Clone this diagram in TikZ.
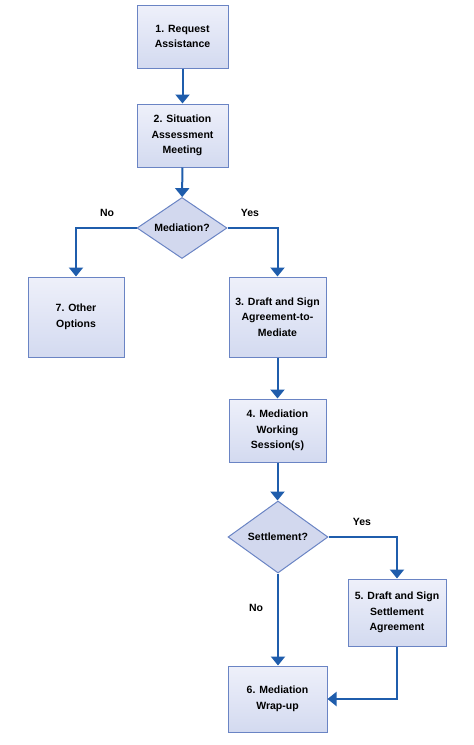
\documentclass[tikz,border=0pt]{standalone}
\usepackage{fontspec}
\setmainfont{Liberation Sans}
\usetikzlibrary{shapes.geometric,arrows.meta}
\definecolor{boxline}{HTML}{6A84C4}
\definecolor{boxtop}{HTML}{EEF0FA}
\definecolor{boxbot}{HTML}{D3DAF0}
\definecolor{dfill}{HTML}{D2D8EE}
\definecolor{arr}{HTML}{1F5DAC}
\tikzset{
  stepbox/.style={draw=boxline, line width=1pt, top color=boxtop, bottom color=boxbot,
    minimum width=91pt, minimum height=63pt, align=center, inner sep=2pt,
    font=\fontsize{10.5}{15.5}\selectfont\bfseries},
  decide/.style={diamond, draw=boxline, line width=1pt, fill=dfill, aspect=1.5,
    inner sep=0pt, font=\fontsize{10.5}{15.5}\selectfont\bfseries},
  flow/.style={draw=arr, line width=2pt, -{Triangle[length=9pt,width=14pt]}},
  lbl/.style={font=\fontsize{10.5}{15.5}\selectfont\bfseries}
}
\begin{document}
\begin{tikzpicture}[x=1pt,y=-1pt]
\useasboundingbox (0,0) rectangle (474,745);
\node[stepbox] (s1) at (182.5,36.5) {1. Request\\Assistance};
\node[stepbox] (s2) at (182.5,135.5) {2. Situation\\Assessment\\Meeting};
\node[decide, minimum width=90pt, minimum height=61pt] (d1) at (182,228) {Mediation?};
\node[stepbox, minimum width=96pt, minimum height=80pt] (s7) at (76,317) {7. Other\\Options};
\node[stepbox, minimum width=97pt, minimum height=80pt] (s3) at (277.5,317) {3. Draft and Sign\\Agreement-to-\\Mediate};
\node[stepbox, minimum width=97pt, minimum height=63pt] (s4) at (277.5,430.5) {4. Mediation\\Working\\Session(s)};
\node[decide, minimum width=100pt, minimum height=72pt] (d2) at (278,537) {Settlement?};
\node[stepbox, minimum width=98pt, minimum height=67pt] (s5) at (397,612.5) {5. Draft and Sign\\Settlement\\Agreement};
\node[stepbox, minimum width=99pt, minimum height=66pt] (s6) at (277.5,699) {6. Mediation\\Wrap-up};
\coordinate (c1) at (76,228);
\coordinate (c2) at (277.5,228);
\coordinate (c3) at (397,537);
\coordinate (c4) at (397,699);
\draw[flow] (s1) -- (s2);
\draw[flow] (s2) -- (d1);
\draw[flow] (d1.west) -- (c1) -- (s7.north);
\draw[flow] (d1.east) -- (c2) -- (s3.north);
\draw[flow] (s3) -- (s4);
\draw[flow] (s4.south) -- (d2.north -| s4.south);
\draw[flow] (d2.east) -- (c3) -- (s5.north);
\draw[flow] (d2.south) -- (s6.north -| d2.south);
\draw[flow] (s5.south) -- (c4) -- (s6.east);
\node[lbl] (no1) at (107,213) {No};
\node[lbl] (yes1) at (250,213) {Yes};
\node[lbl] (yes2) at (362,522) {Yes};
\node[lbl] (no2) at (256,608) {No};
\end{tikzpicture}
\end{document}
